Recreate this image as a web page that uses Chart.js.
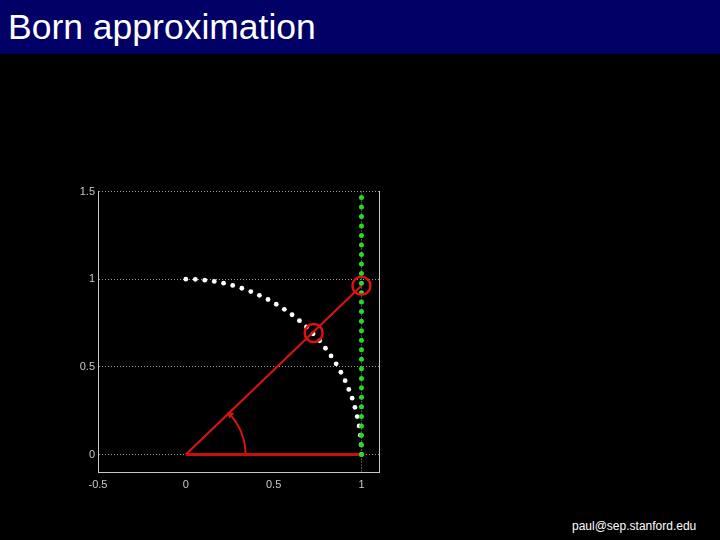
<!DOCTYPE html>
<html lang="en">
<head>
  <meta charset="UTF-8" />
  <title>Born approximation</title>
  <script src="https://cdn.jsdelivr.net/npm/chart.js"></script>
  <style>
    body { margin: 0; width: 720px; height: 540px; background: #000; overflow: hidden; position: relative; font-family: "Liberation Sans", Arial, sans-serif; }
    .bar { position: absolute; left: 0; top: 0; width: 720px; height: 54px; background: #000066; }
    .bar h1 { margin: 0; position: absolute; left: 8px; top: 7px; font-size: 35.5px; font-weight: normal; color: #fff; line-height: 40px; }
    #plot { position: absolute; left: 60px; top: 180px; width: 340px; height: 320px; }
    .foot { position: absolute; left: 572px; top: 518px; font-size: 12px; color: #fff; line-height: 16px; }
  </style>
</head>
<body>
  <div class="bar"><h1>Born approximation</h1></div>
  <div id="plot"><canvas id="chart" width="340" height="320"></canvas></div>
  <div class="foot">paul@sep.stanford.edu</div>
  <script>
    // tick labels
    const xTicks = [-0.5, 0, 0.5, 1];
    const yTicks = [0, 0.5, 1, 1.5];

    // white dots on the unit circle
    const circleX = [0, 0.054, 0.108, 0.162, 0.215, 0.267, 0.319, 0.370, 0.419, 0.468,
      0.515, 0.561, 0.605, 0.647, 0.687, 0.725, 0.762, 0.795, 0.827, 0.856,
      0.883, 0.907, 0.928, 0.947, 0.963, 0.976, 0.987, 0.994, 0.998, 1.0];
    const circleY = [1.0, 0.999, 0.994, 0.987, 0.977, 0.964, 0.948, 0.929, 0.908, 0.884,
      0.857, 0.828, 0.797, 0.763, 0.727, 0.688, 0.648, 0.606, 0.562, 0.517,
      0.469, 0.421, 0.371, 0.321, 0.269, 0.216, 0.163, 0.110, 0.056, 0.0];

    // green dots along x = 1
    const planeY = [0, 0.054, 0.109, 0.163, 0.217, 0.272, 0.326, 0.380, 0.434, 0.489,
      0.543, 0.597, 0.652, 0.706, 0.760, 0.815, 0.869, 0.923, 0.977, 1.032,
      1.086, 1.140, 1.195, 1.249, 1.303, 1.357, 1.412, 1.466];

    // red ray, baseline, angle arc and the two marked points
    const rayX = [0, 1];
    const rayY = [0, 0.962];
    const baseX = [0, 1];
    const baseY = [0, 0];
    const arcX = [0.340, 0.338, 0.333, 0.323, 0.311, 0.294, 0.275, 0.253];
    const arcY = [0, 0.036, 0.071, 0.105, 0.138, 0.170, 0.200, 0.228];
    const markX = [0.728, 1.0];
    const markY = [0.693, 0.962];

    const pts = (xs, ys) => xs.map((x, i) => ({ x: x, y: ys[i] }));
    const RED = "#d41414";

    const gridGray = "#9a9a9a";
    const axisGray = "#c8c8c8";
    const tickFont = { family: "Liberation Sans", size: 11 };

    new Chart(document.getElementById("chart").getContext("2d"), {
      type: "scatter",
      data: {
        datasets: [
          { data: pts(markX, markY), pointRadius: 9, pointBorderWidth: 2.5,
            pointBorderColor: "#e01010", pointBackgroundColor: "rgba(0,0,0,0)", order: 0 },
          { data: pts(arcX.slice(-1), arcY.slice(-1)), pointStyle: "triangle", rotation: -47,
            pointRadius: 3.5, pointBackgroundColor: RED, pointBorderColor: RED, order: 1 },
          { data: planeY.map(y => ({ x: 1, y: y })), pointRadius: 2.5, pointBorderWidth: 0,
            pointBackgroundColor: "#2ad82a", order: 2 },
          { data: pts(rayX, rayY), showLine: true, borderColor: RED, borderWidth: 2.2,
            pointRadius: 0, order: 3 },
          { data: pts(baseX, baseY), showLine: true, borderColor: "#c41010", borderWidth: 3,
            pointRadius: 0, order: 3 },
          { data: pts(arcX, arcY), showLine: true, borderColor: RED, borderWidth: 2,
            pointRadius: 0, tension: 0.3, order: 3 },
          { data: pts(circleX, circleY), pointRadius: 2.4, pointBorderWidth: 0,
            pointBackgroundColor: "#ffffff", order: 4 }
        ]
      },
      options: {
        responsive: false,
        animation: false,
        layout: { padding: { top: 11, right: 21, bottom: 0, left: 0 } },
        plugins: { legend: { display: false }, tooltip: { enabled: false } },
        scales: {
          x: {
            type: "linear", min: -0.5, max: 1.1,
            afterBuildTicks: s => { s.ticks = xTicks.map(v => ({ value: v })); },
            afterFit: s => { s.height = 28; },
            grid: { drawTicks: false, color: c => (c.tick && c.tick.value === 1) ? gridGray : "rgba(0,0,0,0)" },
            border: { color: axisGray, width: 1, dash: [1, 2] },
            ticks: { color: axisGray, padding: 6, font: tickFont, callback: v => String(v) }
          },
          y: {
            type: "linear", min: -0.1, max: 1.5,
            afterBuildTicks: s => { s.ticks = yTicks.map(v => ({ value: v })); },
            afterFit: s => { s.width = 38; },
            grid: { drawTicks: false, color: gridGray },
            border: { color: axisGray, width: 1, dash: [1, 2] },
            ticks: { color: axisGray, padding: 3, font: tickFont, callback: v => String(v) }
          },
          yR: {
            type: "linear", position: "right", min: -0.1, max: 1.5,
            afterFit: s => { s.width = 0; },
            grid: { display: false, drawTicks: false },
            border: { display: true, color: axisGray, width: 1 },
            ticks: { display: false }
          }
        }
      }
    });
  </script>
</body>
</html>
